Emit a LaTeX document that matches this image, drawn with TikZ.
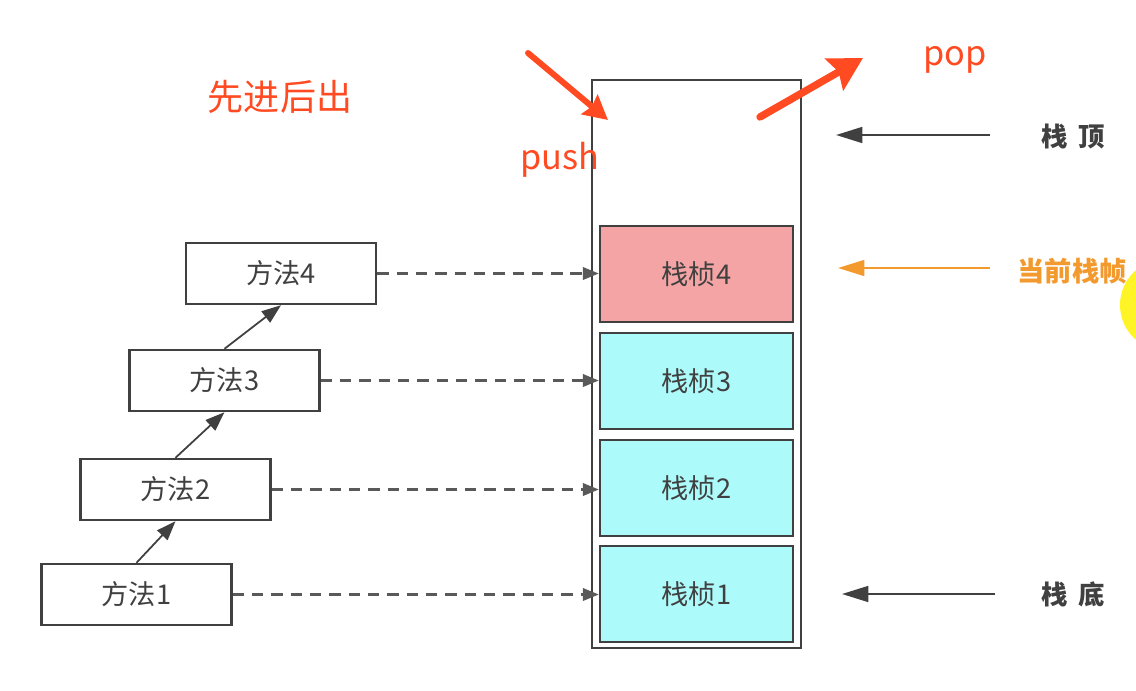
\documentclass[tikz,border=0pt]{standalone}
\usepackage{fontspec}
\setmainfont{Noto Sans CJK SC}
\usepackage{tikz}
\usetikzlibrary{arrows.meta, positioning, calc}

\definecolor{popred}{HTML}{FF4A22}
\definecolor{nowor}{HTML}{F39A2E}
\definecolor{framepink}{HTML}{F4A4A4}
\definecolor{framecyan}{HTML}{ADFAFA}
\definecolor{linegray}{HTML}{404040}

\tikzset{
  method/.style={draw=linegray, line width=1.4pt, fill=white, minimum width=3.8cm, minimum height=1.22cm, inner sep=0pt, font=\fontsize{15.5pt}{18pt}\selectfont, text=linegray},
  frame/.style={draw=linegray, line width=1.4pt, fill=framecyan, minimum width=3.86cm, minimum height=1.92cm, inner sep=0pt, font=\fontsize{15.5pt}{18pt}\selectfont, text=linegray},
  callto/.style={draw=linegray, line width=1pt, -{Triangle[length=11pt,width=8pt]}},
  linkto/.style={draw=gray!70!black, line width=1.4pt, dash pattern=on 6.5pt off 4.5pt, -{Triangle[length=9pt,width=7pt]}},
  marker/.style={line width=1.3pt, -{Triangle[length=15pt,width=9pt]}},
  pusharrow/.style={draw=popred, line width=3.4pt, line cap=round, -{Stealth[length=0.48cm,width=0.5cm,inset=0.06cm]}},
  poparrow/.style={draw=popred, line width=4.2pt, line cap=round, -{Stealth[length=0.66cm,width=0.72cm,inset=0.1cm]}},
  sidelabel/.style={font=\bfseries\fontsize{15pt}{17pt}\selectfont, text=linegray}
}

\begin{document}
\begin{tikzpicture}[x=0.02cm,y=-0.02cm]
\useasboundingbox (0,0) rectangle (1136,690);
\fill[white] (0,0) rectangle (1136,690);
% cursor highlight
\begin{scope}
\clip (0,0) rectangle (1136,690);
\fill[yellow!85!white] (1166,305) circle[radius=46];
\end{scope}
% The stack
\node[draw=linegray, line width=1.4pt, minimum width=4.18cm, minimum height=11.36cm, inner sep=0pt] (stack) at (696.5,364) {};
\node[frame, fill=framepink] (f4) at (696.5,274) {栈桢4};
\node[frame] (f3) at (696.5,381) {栈桢3};
\node[frame] (f2) at (696.5,488) {栈桢2};
\node[frame] (f1) at (696.5,594) {栈桢1};
% The methods
\node[method] (m4) at (281,273.5) {方法4};
\node[method] (m3) at (224.5,380.5) {方法3};
\node[method] (m2) at (175.5,489.5) {方法2};
\node[method] (m1) at (136.5,594.5) {方法1};
\draw[callto] (m1.north) -- (m2.south);
\draw[callto] (m2.north) -- (m3.south);
\draw[callto] (m3.north) -- (m4.south);
\foreach \i in {1,...,4}
  \draw[linkto] (m\i.east) -- (m\i.east -| f\i.west);
% Labels on the right
\node[sidelabel] (top) at (1073,137) {栈\hspace{0.4em}顶};
\node[sidelabel] (bottom) at (1073,594) {栈\hspace{0.4em}底};
\node[font=\bfseries\fontsize{15.5pt}{18pt}\selectfont, text=nowor] (now) at (1072,271) {当前栈帧};
\coordinate (topend) at (836,135);
\coordinate (topstart) at (990,135);
\coordinate (nowend) at (838,268);
\coordinate (nowstart) at (990,268);
\coordinate (botend) at (842,594);
\coordinate (botstart) at (995,594);
\draw[marker, linegray] (topstart) -- (topend);
\draw[marker, nowor] (nowstart) -- (nowend);
\draw[marker, linegray] (botstart) -- (botend);
% push and pop
\node[text=popred, font=\fontsize{20.5pt}{24pt}\selectfont] (rule) at (280,97) {先进后出};
\node[text=popred, font=\fontsize{19.5pt}{22pt}\selectfont] (push) at (560,160) {push};
\node[text=popred, font=\fontsize{19.5pt}{22pt}\selectfont] (pop) at (955,60) {pop};
\coordinate (pushfrom) at (528,53);
\coordinate (pushto) at (608,120);
\coordinate (popfrom) at (760,117);
\coordinate (popto) at (863,58);
\draw[pusharrow] (pushfrom) -- (pushto);
\draw[poparrow] (popfrom) -- (popto);
\end{tikzpicture}
\end{document}
